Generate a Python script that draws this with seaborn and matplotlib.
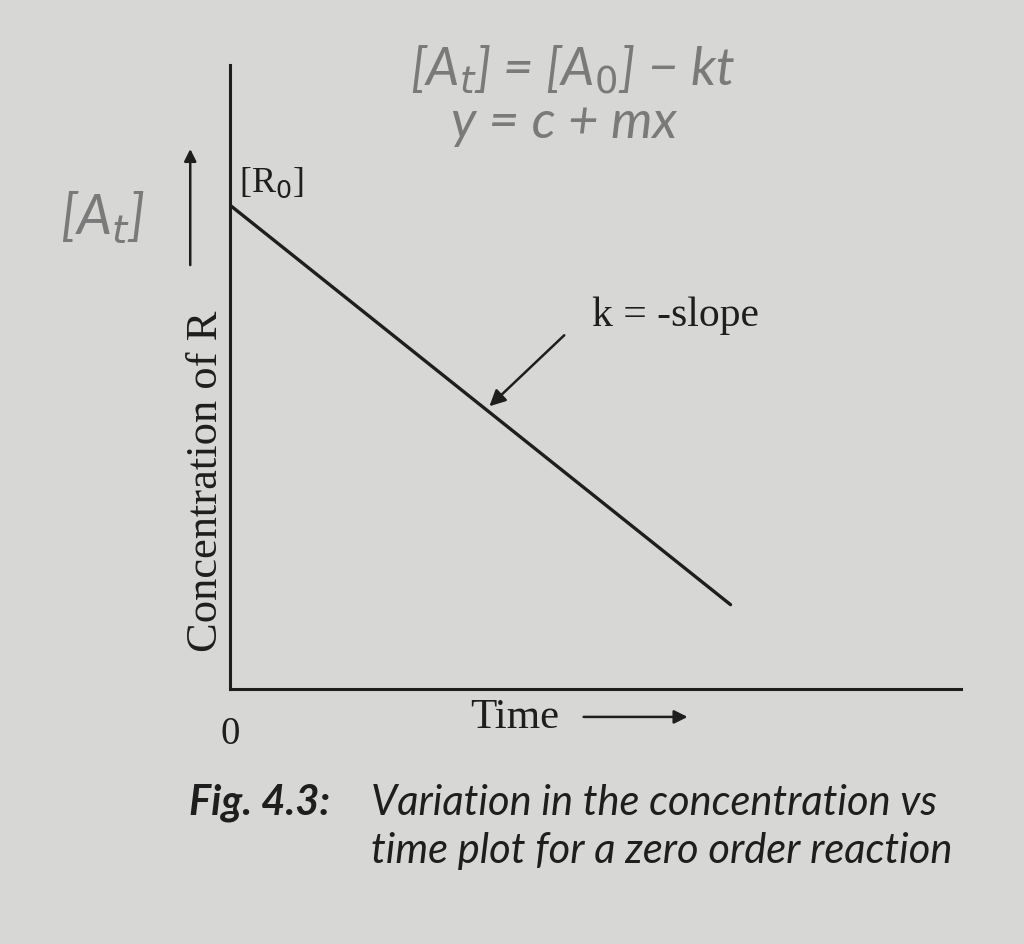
import matplotlib
matplotlib.use("Agg")
import matplotlib.pyplot as plt
import seaborn as sns
import pandas as pd

# Data (arbitrary units)
time = [0.0, 6.85]
concentration = [7.75, 1.35]
x_label = "Time"
y_label = "Concentration of R"
start_label = "[R$_0$]"
slope_label = "k = -slope"
caption_head = "Fig. 4.3:"
caption_lines = ["Variation in the concentration vs", "time plot for a zero order reaction"]
note_lines = ["[A$_t$] = [A$_0$] \u2212 kt", "y = c + mx"]

df = pd.DataFrame({"time": time, "conc": concentration})

paper = "#d7d7d5"
ink = "#1e1e1e"
pencil = "#7a7a7a"

sns.set_theme(style="white", rc={"figure.facecolor": paper, "axes.facecolor": paper})
plt.rcParams["font.family"] = ["Liberation Serif", "DejaVu Serif"]

fig = plt.figure(figsize=(10.24, 9.45), dpi=100)
ax = fig.add_axes([0.225, 0.27, 0.713, 0.66])

sns.lineplot(data=df, x="time", y="conc", color=ink, linewidth=2.4, ax=ax)
ax.set_xlim(0, 10)
ax.set_ylim(0, 10)
ax.set_xticks([])
ax.set_yticks([])
ax.set_xlabel("")
ax.set_ylabel("")
for side in ["top", "right"]:
    ax.spines[side].set_visible(False)
for side in ["left", "bottom"]:
    ax.spines[side].set_color(ink)
    ax.spines[side].set_linewidth(2.2)

# labels on the graph
ax.text(0.12, 7.85, start_label, fontsize=26, color=ink, ha="left", va="bottom")
ax.annotate("", xy=(3.52, 4.5), xytext=(4.6, 5.7),
            arrowprops=dict(arrowstyle="-|>", color=ink, lw=1.8, mutation_scale=24))
ax.text(4.95, 6.0, slope_label, fontsize=30, color=ink, ha="left", va="center")

# axis titles with arrows
ax.text(-0.33, 3.35, y_label, fontsize=32, color=ink, rotation=90, ha="center", va="center")
ax.annotate("", xy=(-0.55, 8.7), xytext=(-0.55, 6.75),
            arrowprops=dict(arrowstyle="-|>", color=ink, lw=1.8, mutation_scale=18),
            annotation_clip=False)
ax.text(3.9, -0.45, x_label, fontsize=31, color=ink, ha="center", va="center")
ax.annotate("", xy=(6.3, -0.45), xytext=(4.8, -0.45),
            arrowprops=dict(arrowstyle="-|>", color=ink, lw=1.8, mutation_scale=20),
            annotation_clip=False)
ax.text(0.0, -0.72, "0", fontsize=28, color=ink, ha="center", va="center")

# pencil notes
fig.text(0.40, 0.925, note_lines[0], fontsize=38, color=pencil, style="italic",
         family=["Lato", "DejaVu Sans"], ha="left", va="center")
fig.text(0.44, 0.87, note_lines[1], fontsize=38, color=pencil, style="italic",
         family=["Lato", "DejaVu Sans"], ha="left", va="center")
fig.text(0.10, 0.77, "[A$_t$]", fontsize=40, color=pencil, style="italic",
         family=["Lato", "DejaVu Sans"], ha="center", va="center")

# caption
fig.text(0.185, 0.150, caption_head, fontsize=30, color=ink, style="italic",
         weight="bold", family=["Lato", "DejaVu Sans"], ha="left", va="center")
fig.text(0.362, 0.150, caption_lines[0], fontsize=30, color=ink, style="italic",
         family=["Lato", "DejaVu Sans"], ha="left", va="center")
fig.text(0.362, 0.099, caption_lines[1], fontsize=30, color=ink, style="italic",
         family=["Lato", "DejaVu Sans"], ha="left", va="center")

fig.savefig("out.png", dpi=100, facecolor=paper)
